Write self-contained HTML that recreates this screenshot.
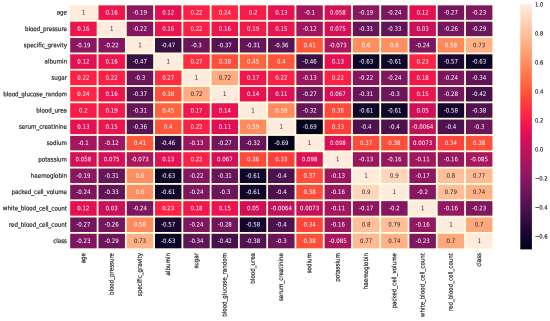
<!DOCTYPE html>
<html><head><meta charset="utf-8"><title>Correlation heatmap</title>
<style>html,body{margin:0;padding:0;background:#fff}body{width:550px;height:321px;overflow:hidden}svg{display:block}text{font-family:"DejaVu Sans Condensed","DejaVu Sans","Liberation Sans",sans-serif;font-size:6.1px;font-stretch:condensed;text-rendering:geometricPrecision;stroke-linejoin:round}.a text{stroke-width:0px}.l text{stroke-width:0.2px;font-size:6.18px}.c text{stroke-width:0.15px;font-size:5.85px}</style></head><body>
<svg width="550" height="321" viewBox="0 0 550 321">
<rect x="0" y="0" width="550" height="321" fill="#ffffff"/>
<defs><filter id="soft" x="-5%" y="-5%" width="110%" height="110%"><feGaussianBlur stdDeviation="0.3"/></filter><filter id="softa" x="-2%" y="-2%" width="104%" height="104%"><feGaussianBlur stdDeviation="0.42"/></filter></defs>
<rect x="69.30" y="4.45" width="424.00" height="244.75" fill="#ffffdf"/>
<g>
<rect x="70.20" y="5.35" width="26.47" height="14.52" fill="#ffebdd"/>
<rect x="98.47" y="5.35" width="26.47" height="14.52" fill="#ed1450"/>
<rect x="126.73" y="5.35" width="26.47" height="14.52" fill="#891761"/>
<rect x="155.00" y="5.35" width="26.47" height="14.52" fill="#e31054"/>
<rect x="183.27" y="5.35" width="26.47" height="14.52" fill="#fa2048"/>
<rect x="211.53" y="5.35" width="26.47" height="14.52" fill="#fe2546"/>
<rect x="239.80" y="5.35" width="26.47" height="14.52" fill="#f61b4b"/>
<rect x="268.07" y="5.35" width="26.47" height="14.52" fill="#e61153"/>
<rect x="296.33" y="5.35" width="26.47" height="14.52" fill="#a3165f"/>
<rect x="324.60" y="5.35" width="26.47" height="14.52" fill="#d20f59"/>
<rect x="352.87" y="5.35" width="26.47" height="14.52" fill="#891761"/>
<rect x="381.13" y="5.35" width="26.47" height="14.52" fill="#7c165f"/>
<rect x="409.40" y="5.35" width="26.47" height="14.52" fill="#e31054"/>
<rect x="437.67" y="5.35" width="26.47" height="14.52" fill="#73165d"/>
<rect x="465.93" y="5.35" width="26.47" height="14.52" fill="#7e1660"/>
<rect x="70.20" y="21.67" width="26.47" height="14.52" fill="#ed1450"/>
<rect x="98.47" y="21.67" width="26.47" height="14.52" fill="#ffebdd"/>
<rect x="126.73" y="21.67" width="26.47" height="14.52" fill="#821660"/>
<rect x="155.00" y="21.67" width="26.47" height="14.52" fill="#ed1450"/>
<rect x="183.27" y="21.67" width="26.47" height="14.52" fill="#fa2048"/>
<rect x="211.53" y="21.67" width="26.47" height="14.52" fill="#ed1450"/>
<rect x="239.80" y="21.67" width="26.47" height="14.52" fill="#f41a4c"/>
<rect x="268.07" y="21.67" width="26.47" height="14.52" fill="#eb1350"/>
<rect x="296.33" y="21.67" width="26.47" height="14.52" fill="#9e1760"/>
<rect x="324.60" y="21.67" width="26.47" height="14.52" fill="#d60f58"/>
<rect x="352.87" y="21.67" width="26.47" height="14.52" fill="#671559"/>
<rect x="381.13" y="21.67" width="26.47" height="14.52" fill="#611457"/>
<rect x="409.40" y="21.67" width="26.47" height="14.52" fill="#ca105b"/>
<rect x="437.67" y="21.67" width="26.47" height="14.52" fill="#76165e"/>
<rect x="465.93" y="21.67" width="26.47" height="14.52" fill="#6d155b"/>
<rect x="70.20" y="37.98" width="26.47" height="14.52" fill="#891761"/>
<rect x="98.47" y="37.98" width="26.47" height="14.52" fill="#821660"/>
<rect x="126.73" y="37.98" width="26.47" height="14.52" fill="#ffebdd"/>
<rect x="155.00" y="37.98" width="26.47" height="14.52" fill="#390e43"/>
<rect x="183.27" y="37.98" width="26.47" height="14.52" fill="#6b155a"/>
<rect x="211.53" y="37.98" width="26.47" height="14.52" fill="#551352"/>
<rect x="239.80" y="37.98" width="26.47" height="14.52" fill="#671559"/>
<rect x="268.07" y="37.98" width="26.47" height="14.52" fill="#571353"/>
<rect x="296.33" y="37.98" width="26.47" height="14.52" fill="#ff573d"/>
<rect x="324.60" y="37.98" width="26.47" height="14.52" fill="#ab165e"/>
<rect x="352.87" y="37.98" width="26.47" height="14.52" fill="#ff8e62"/>
<rect x="381.13" y="37.98" width="26.47" height="14.52" fill="#ff8e62"/>
<rect x="409.40" y="37.98" width="26.47" height="14.52" fill="#7c165f"/>
<rect x="437.67" y="37.98" width="26.47" height="14.52" fill="#ff895d"/>
<rect x="465.93" y="37.98" width="26.47" height="14.52" fill="#ffb086"/>
<rect x="70.20" y="54.30" width="26.47" height="14.52" fill="#e31054"/>
<rect x="98.47" y="54.30" width="26.47" height="14.52" fill="#ed1450"/>
<rect x="126.73" y="54.30" width="26.47" height="14.52" fill="#390e43"/>
<rect x="155.00" y="54.30" width="26.47" height="14.52" fill="#ffebdd"/>
<rect x="183.27" y="54.30" width="26.47" height="14.52" fill="#ff2d42"/>
<rect x="211.53" y="54.30" width="26.47" height="14.52" fill="#ff4f3b"/>
<rect x="239.80" y="54.30" width="26.47" height="14.52" fill="#ff6441"/>
<rect x="268.07" y="54.30" width="26.47" height="14.52" fill="#ff553c"/>
<rect x="296.33" y="54.30" width="26.47" height="14.52" fill="#3a0e44"/>
<rect x="324.60" y="54.30" width="26.47" height="14.52" fill="#e61153"/>
<rect x="352.87" y="54.30" width="26.47" height="14.52" fill="#0b0527"/>
<rect x="381.13" y="54.30" width="26.47" height="14.52" fill="#11072b"/>
<rect x="409.40" y="54.30" width="26.47" height="14.52" fill="#fd2347"/>
<rect x="437.67" y="54.30" width="26.47" height="14.52" fill="#1c0532"/>
<rect x="465.93" y="54.30" width="26.47" height="14.52" fill="#0b0527"/>
<rect x="70.20" y="70.62" width="26.47" height="14.52" fill="#fa2048"/>
<rect x="98.47" y="70.62" width="26.47" height="14.52" fill="#fa2048"/>
<rect x="126.73" y="70.62" width="26.47" height="14.52" fill="#6b155a"/>
<rect x="155.00" y="70.62" width="26.47" height="14.52" fill="#ff2d42"/>
<rect x="183.27" y="70.62" width="26.47" height="14.52" fill="#ffebdd"/>
<rect x="211.53" y="70.62" width="26.47" height="14.52" fill="#ffac82"/>
<rect x="239.80" y="70.62" width="26.47" height="14.52" fill="#f0164e"/>
<rect x="268.07" y="70.62" width="26.47" height="14.52" fill="#fa2048"/>
<rect x="296.33" y="70.62" width="26.47" height="14.52" fill="#9a1760"/>
<rect x="324.60" y="70.62" width="26.47" height="14.52" fill="#fa2048"/>
<rect x="352.87" y="70.62" width="26.47" height="14.52" fill="#821660"/>
<rect x="381.13" y="70.62" width="26.47" height="14.52" fill="#7c165f"/>
<rect x="409.40" y="70.62" width="26.47" height="14.52" fill="#f1174d"/>
<rect x="437.67" y="70.62" width="26.47" height="14.52" fill="#7c165f"/>
<rect x="465.93" y="70.62" width="26.47" height="14.52" fill="#5f1456"/>
<rect x="70.20" y="86.93" width="26.47" height="14.52" fill="#fe2546"/>
<rect x="98.47" y="86.93" width="26.47" height="14.52" fill="#ed1450"/>
<rect x="126.73" y="86.93" width="26.47" height="14.52" fill="#551352"/>
<rect x="155.00" y="86.93" width="26.47" height="14.52" fill="#ff4f3b"/>
<rect x="183.27" y="86.93" width="26.47" height="14.52" fill="#ffac82"/>
<rect x="211.53" y="86.93" width="26.47" height="14.52" fill="#ffebdd"/>
<rect x="239.80" y="86.93" width="26.47" height="14.52" fill="#e81152"/>
<rect x="268.07" y="86.93" width="26.47" height="14.52" fill="#e10f55"/>
<rect x="296.33" y="86.93" width="26.47" height="14.52" fill="#73165d"/>
<rect x="324.60" y="86.93" width="26.47" height="14.52" fill="#d40f59"/>
<rect x="352.87" y="86.93" width="26.47" height="14.52" fill="#671559"/>
<rect x="381.13" y="86.93" width="26.47" height="14.52" fill="#6b155a"/>
<rect x="409.40" y="86.93" width="26.47" height="14.52" fill="#eb1350"/>
<rect x="437.67" y="86.93" width="26.47" height="14.52" fill="#71165c"/>
<rect x="465.93" y="86.93" width="26.47" height="14.52" fill="#46104b"/>
<rect x="70.20" y="103.25" width="26.47" height="14.52" fill="#f61b4b"/>
<rect x="98.47" y="103.25" width="26.47" height="14.52" fill="#f41a4c"/>
<rect x="126.73" y="103.25" width="26.47" height="14.52" fill="#671559"/>
<rect x="155.00" y="103.25" width="26.47" height="14.52" fill="#ff6441"/>
<rect x="183.27" y="103.25" width="26.47" height="14.52" fill="#f0164e"/>
<rect x="211.53" y="103.25" width="26.47" height="14.52" fill="#e81152"/>
<rect x="239.80" y="103.25" width="26.47" height="14.52" fill="#ffebdd"/>
<rect x="268.07" y="103.25" width="26.47" height="14.52" fill="#ff8b5f"/>
<rect x="296.33" y="103.25" width="26.47" height="14.52" fill="#651558"/>
<rect x="324.60" y="103.25" width="26.47" height="14.52" fill="#ff493b"/>
<rect x="352.87" y="103.25" width="26.47" height="14.52" fill="#11072b"/>
<rect x="381.13" y="103.25" width="26.47" height="14.52" fill="#11072b"/>
<rect x="409.40" y="103.25" width="26.47" height="14.52" fill="#d00f59"/>
<rect x="437.67" y="103.25" width="26.47" height="14.52" fill="#180430"/>
<rect x="465.93" y="103.25" width="26.47" height="14.52" fill="#511250"/>
<rect x="70.20" y="119.57" width="26.47" height="14.52" fill="#e61153"/>
<rect x="98.47" y="119.57" width="26.47" height="14.52" fill="#eb1350"/>
<rect x="126.73" y="119.57" width="26.47" height="14.52" fill="#571353"/>
<rect x="155.00" y="119.57" width="26.47" height="14.52" fill="#ff553c"/>
<rect x="183.27" y="119.57" width="26.47" height="14.52" fill="#fa2048"/>
<rect x="211.53" y="119.57" width="26.47" height="14.52" fill="#e10f55"/>
<rect x="239.80" y="119.57" width="26.47" height="14.52" fill="#ff8b5f"/>
<rect x="268.07" y="119.57" width="26.47" height="14.52" fill="#ffebdd"/>
<rect x="296.33" y="119.57" width="26.47" height="14.52" fill="#04021d"/>
<rect x="324.60" y="119.57" width="26.47" height="14.52" fill="#ff3e3c"/>
<rect x="352.87" y="119.57" width="26.47" height="14.52" fill="#4c114e"/>
<rect x="381.13" y="119.57" width="26.47" height="14.52" fill="#4c114e"/>
<rect x="409.40" y="119.57" width="26.47" height="14.52" fill="#bf125c"/>
<rect x="437.67" y="119.57" width="26.47" height="14.52" fill="#4c114e"/>
<rect x="465.93" y="119.57" width="26.47" height="14.52" fill="#6b155a"/>
<rect x="70.20" y="135.88" width="26.47" height="14.52" fill="#a3165f"/>
<rect x="98.47" y="135.88" width="26.47" height="14.52" fill="#9e1760"/>
<rect x="126.73" y="135.88" width="26.47" height="14.52" fill="#ff573d"/>
<rect x="155.00" y="135.88" width="26.47" height="14.52" fill="#3a0e44"/>
<rect x="183.27" y="135.88" width="26.47" height="14.52" fill="#9a1760"/>
<rect x="211.53" y="135.88" width="26.47" height="14.52" fill="#73165d"/>
<rect x="239.80" y="135.88" width="26.47" height="14.52" fill="#651558"/>
<rect x="268.07" y="135.88" width="26.47" height="14.52" fill="#04021d"/>
<rect x="296.33" y="135.88" width="26.47" height="14.52" fill="#ffebdd"/>
<rect x="324.60" y="135.88" width="26.47" height="14.52" fill="#dd0f56"/>
<rect x="352.87" y="135.88" width="26.47" height="14.52" fill="#ff4b3b"/>
<rect x="381.13" y="135.88" width="26.47" height="14.52" fill="#ff4f3b"/>
<rect x="409.40" y="135.88" width="26.47" height="14.52" fill="#c3125c"/>
<rect x="437.67" y="135.88" width="26.47" height="14.52" fill="#ff423b"/>
<rect x="465.93" y="135.88" width="26.47" height="14.52" fill="#ff4f3b"/>
<rect x="70.20" y="152.20" width="26.47" height="14.52" fill="#d20f59"/>
<rect x="98.47" y="152.20" width="26.47" height="14.52" fill="#d60f58"/>
<rect x="126.73" y="152.20" width="26.47" height="14.52" fill="#ab165e"/>
<rect x="155.00" y="152.20" width="26.47" height="14.52" fill="#e61153"/>
<rect x="183.27" y="152.20" width="26.47" height="14.52" fill="#fa2048"/>
<rect x="211.53" y="152.20" width="26.47" height="14.52" fill="#d40f59"/>
<rect x="239.80" y="152.20" width="26.47" height="14.52" fill="#ff493b"/>
<rect x="268.07" y="152.20" width="26.47" height="14.52" fill="#ff3e3c"/>
<rect x="296.33" y="152.20" width="26.47" height="14.52" fill="#dd0f56"/>
<rect x="324.60" y="152.20" width="26.47" height="14.52" fill="#ffebdd"/>
<rect x="352.87" y="152.20" width="26.47" height="14.52" fill="#9a1760"/>
<rect x="381.13" y="152.20" width="26.47" height="14.52" fill="#931761"/>
<rect x="409.40" y="152.20" width="26.47" height="14.52" fill="#a0175f"/>
<rect x="437.67" y="152.20" width="26.47" height="14.52" fill="#931761"/>
<rect x="465.93" y="152.20" width="26.47" height="14.52" fill="#a7165e"/>
<rect x="70.20" y="168.52" width="26.47" height="14.52" fill="#891761"/>
<rect x="98.47" y="168.52" width="26.47" height="14.52" fill="#671559"/>
<rect x="126.73" y="168.52" width="26.47" height="14.52" fill="#ff8e62"/>
<rect x="155.00" y="168.52" width="26.47" height="14.52" fill="#0b0527"/>
<rect x="183.27" y="168.52" width="26.47" height="14.52" fill="#821660"/>
<rect x="211.53" y="168.52" width="26.47" height="14.52" fill="#671559"/>
<rect x="239.80" y="168.52" width="26.47" height="14.52" fill="#11072b"/>
<rect x="268.07" y="168.52" width="26.47" height="14.52" fill="#4c114e"/>
<rect x="296.33" y="168.52" width="26.47" height="14.52" fill="#ff4b3b"/>
<rect x="324.60" y="168.52" width="26.47" height="14.52" fill="#9a1760"/>
<rect x="352.87" y="168.52" width="26.47" height="14.52" fill="#ffebdd"/>
<rect x="381.13" y="168.52" width="26.47" height="14.52" fill="#ffd6bc"/>
<rect x="409.40" y="168.52" width="26.47" height="14.52" fill="#8f1761"/>
<rect x="437.67" y="168.52" width="26.47" height="14.52" fill="#ffbf9b"/>
<rect x="465.93" y="168.52" width="26.47" height="14.52" fill="#ffb993"/>
<rect x="70.20" y="184.83" width="26.47" height="14.52" fill="#7c165f"/>
<rect x="98.47" y="184.83" width="26.47" height="14.52" fill="#611457"/>
<rect x="126.73" y="184.83" width="26.47" height="14.52" fill="#ff8e62"/>
<rect x="155.00" y="184.83" width="26.47" height="14.52" fill="#11072b"/>
<rect x="183.27" y="184.83" width="26.47" height="14.52" fill="#7c165f"/>
<rect x="211.53" y="184.83" width="26.47" height="14.52" fill="#6b155a"/>
<rect x="239.80" y="184.83" width="26.47" height="14.52" fill="#11072b"/>
<rect x="268.07" y="184.83" width="26.47" height="14.52" fill="#4c114e"/>
<rect x="296.33" y="184.83" width="26.47" height="14.52" fill="#ff4f3b"/>
<rect x="324.60" y="184.83" width="26.47" height="14.52" fill="#931761"/>
<rect x="352.87" y="184.83" width="26.47" height="14.52" fill="#ffd6bc"/>
<rect x="381.13" y="184.83" width="26.47" height="14.52" fill="#ffebdd"/>
<rect x="409.40" y="184.83" width="26.47" height="14.52" fill="#881761"/>
<rect x="437.67" y="184.83" width="26.47" height="14.52" fill="#ffbe99"/>
<rect x="465.93" y="184.83" width="26.47" height="14.52" fill="#ffb188"/>
<rect x="70.20" y="201.15" width="26.47" height="14.52" fill="#e31054"/>
<rect x="98.47" y="201.15" width="26.47" height="14.52" fill="#ca105b"/>
<rect x="126.73" y="201.15" width="26.47" height="14.52" fill="#7c165f"/>
<rect x="155.00" y="201.15" width="26.47" height="14.52" fill="#fd2347"/>
<rect x="183.27" y="201.15" width="26.47" height="14.52" fill="#f1174d"/>
<rect x="211.53" y="201.15" width="26.47" height="14.52" fill="#eb1350"/>
<rect x="239.80" y="201.15" width="26.47" height="14.52" fill="#d00f59"/>
<rect x="268.07" y="201.15" width="26.47" height="14.52" fill="#bf125c"/>
<rect x="296.33" y="201.15" width="26.47" height="14.52" fill="#c3125c"/>
<rect x="324.60" y="201.15" width="26.47" height="14.52" fill="#a0175f"/>
<rect x="352.87" y="201.15" width="26.47" height="14.52" fill="#8f1761"/>
<rect x="381.13" y="201.15" width="26.47" height="14.52" fill="#881761"/>
<rect x="409.40" y="201.15" width="26.47" height="14.52" fill="#ffebdd"/>
<rect x="437.67" y="201.15" width="26.47" height="14.52" fill="#931761"/>
<rect x="465.93" y="201.15" width="26.47" height="14.52" fill="#7e1660"/>
<rect x="70.20" y="217.47" width="26.47" height="14.52" fill="#73165d"/>
<rect x="98.47" y="217.47" width="26.47" height="14.52" fill="#76165e"/>
<rect x="126.73" y="217.47" width="26.47" height="14.52" fill="#ff895d"/>
<rect x="155.00" y="217.47" width="26.47" height="14.52" fill="#1c0532"/>
<rect x="183.27" y="217.47" width="26.47" height="14.52" fill="#7c165f"/>
<rect x="211.53" y="217.47" width="26.47" height="14.52" fill="#71165c"/>
<rect x="239.80" y="217.47" width="26.47" height="14.52" fill="#180430"/>
<rect x="268.07" y="217.47" width="26.47" height="14.52" fill="#4c114e"/>
<rect x="296.33" y="217.47" width="26.47" height="14.52" fill="#ff423b"/>
<rect x="324.60" y="217.47" width="26.47" height="14.52" fill="#931761"/>
<rect x="352.87" y="217.47" width="26.47" height="14.52" fill="#ffbf9b"/>
<rect x="381.13" y="217.47" width="26.47" height="14.52" fill="#ffbe99"/>
<rect x="409.40" y="217.47" width="26.47" height="14.52" fill="#931761"/>
<rect x="437.67" y="217.47" width="26.47" height="14.52" fill="#ffebdd"/>
<rect x="465.93" y="217.47" width="26.47" height="14.52" fill="#ffa87d"/>
<rect x="70.20" y="233.78" width="26.47" height="14.52" fill="#7e1660"/>
<rect x="98.47" y="233.78" width="26.47" height="14.52" fill="#6d155b"/>
<rect x="126.73" y="233.78" width="26.47" height="14.52" fill="#ffb086"/>
<rect x="155.00" y="233.78" width="26.47" height="14.52" fill="#0b0527"/>
<rect x="183.27" y="233.78" width="26.47" height="14.52" fill="#5f1456"/>
<rect x="211.53" y="233.78" width="26.47" height="14.52" fill="#46104b"/>
<rect x="239.80" y="233.78" width="26.47" height="14.52" fill="#511250"/>
<rect x="268.07" y="233.78" width="26.47" height="14.52" fill="#6b155a"/>
<rect x="296.33" y="233.78" width="26.47" height="14.52" fill="#ff4f3b"/>
<rect x="324.60" y="233.78" width="26.47" height="14.52" fill="#a7165e"/>
<rect x="352.87" y="233.78" width="26.47" height="14.52" fill="#ffb993"/>
<rect x="381.13" y="233.78" width="26.47" height="14.52" fill="#ffb188"/>
<rect x="409.40" y="233.78" width="26.47" height="14.52" fill="#7e1660"/>
<rect x="437.67" y="233.78" width="26.47" height="14.52" fill="#ffa87d"/>
<rect x="465.93" y="233.78" width="26.47" height="14.52" fill="#ffebdd"/>
</g>
<g class="a" text-anchor="middle" filter="url(#softa)">
<text transform="translate(83.43 14.50) rotate(.03)" fill="#262626" stroke="#262626">1</text>
<text transform="translate(111.70 14.50) rotate(.03)" fill="#ffffff" stroke="#ffffff">0.16</text>
<text transform="translate(139.97 14.50) rotate(.03)" fill="#ffffff" stroke="#ffffff">-0.19</text>
<text transform="translate(168.23 14.50) rotate(.03)" fill="#ffffff" stroke="#ffffff">0.12</text>
<text transform="translate(196.50 14.50) rotate(.03)" fill="#ffffff" stroke="#ffffff">0.22</text>
<text transform="translate(224.77 14.50) rotate(.03)" fill="#ffffff" stroke="#ffffff">0.24</text>
<text transform="translate(253.03 14.50) rotate(.03)" fill="#ffffff" stroke="#ffffff">0.2</text>
<text transform="translate(281.30 14.50) rotate(.03)" fill="#ffffff" stroke="#ffffff">0.13</text>
<text transform="translate(309.57 14.50) rotate(.03)" fill="#ffffff" stroke="#ffffff">-0.1</text>
<text transform="translate(337.83 14.50) rotate(.03)" fill="#ffffff" stroke="#ffffff">0.058</text>
<text transform="translate(366.10 14.50) rotate(.03)" fill="#ffffff" stroke="#ffffff">-0.19</text>
<text transform="translate(394.37 14.50) rotate(.03)" fill="#ffffff" stroke="#ffffff">-0.24</text>
<text transform="translate(422.63 14.50) rotate(.03)" fill="#ffffff" stroke="#ffffff">0.12</text>
<text transform="translate(450.90 14.50) rotate(.03)" fill="#ffffff" stroke="#ffffff">-0.27</text>
<text transform="translate(479.17 14.50) rotate(.03)" fill="#ffffff" stroke="#ffffff">-0.23</text>
<text transform="translate(83.43 30.82) rotate(.03)" fill="#ffffff" stroke="#ffffff">0.16</text>
<text transform="translate(111.70 30.82) rotate(.03)" fill="#262626" stroke="#262626">1</text>
<text transform="translate(139.97 30.82) rotate(.03)" fill="#ffffff" stroke="#ffffff">-0.22</text>
<text transform="translate(168.23 30.82) rotate(.03)" fill="#ffffff" stroke="#ffffff">0.16</text>
<text transform="translate(196.50 30.82) rotate(.03)" fill="#ffffff" stroke="#ffffff">0.22</text>
<text transform="translate(224.77 30.82) rotate(.03)" fill="#ffffff" stroke="#ffffff">0.16</text>
<text transform="translate(253.03 30.82) rotate(.03)" fill="#ffffff" stroke="#ffffff">0.19</text>
<text transform="translate(281.30 30.82) rotate(.03)" fill="#ffffff" stroke="#ffffff">0.15</text>
<text transform="translate(309.57 30.82) rotate(.03)" fill="#ffffff" stroke="#ffffff">-0.12</text>
<text transform="translate(337.83 30.82) rotate(.03)" fill="#ffffff" stroke="#ffffff">0.075</text>
<text transform="translate(366.10 30.82) rotate(.03)" fill="#ffffff" stroke="#ffffff">-0.31</text>
<text transform="translate(394.37 30.82) rotate(.03)" fill="#ffffff" stroke="#ffffff">-0.33</text>
<text transform="translate(422.63 30.82) rotate(.03)" fill="#ffffff" stroke="#ffffff">0.03</text>
<text transform="translate(450.90 30.82) rotate(.03)" fill="#ffffff" stroke="#ffffff">-0.26</text>
<text transform="translate(479.17 30.82) rotate(.03)" fill="#ffffff" stroke="#ffffff">-0.29</text>
<text transform="translate(83.43 47.13) rotate(.03)" fill="#ffffff" stroke="#ffffff">-0.19</text>
<text transform="translate(111.70 47.13) rotate(.03)" fill="#ffffff" stroke="#ffffff">-0.22</text>
<text transform="translate(139.97 47.13) rotate(.03)" fill="#262626" stroke="#262626">1</text>
<text transform="translate(168.23 47.13) rotate(.03)" fill="#ffffff" stroke="#ffffff">-0.47</text>
<text transform="translate(196.50 47.13) rotate(.03)" fill="#ffffff" stroke="#ffffff">-0.3</text>
<text transform="translate(224.77 47.13) rotate(.03)" fill="#ffffff" stroke="#ffffff">-0.37</text>
<text transform="translate(253.03 47.13) rotate(.03)" fill="#ffffff" stroke="#ffffff">-0.31</text>
<text transform="translate(281.30 47.13) rotate(.03)" fill="#ffffff" stroke="#ffffff">-0.36</text>
<text transform="translate(309.57 47.13) rotate(.03)" fill="#ffffff" stroke="#ffffff">0.41</text>
<text transform="translate(337.83 47.13) rotate(.03)" fill="#ffffff" stroke="#ffffff">-0.073</text>
<text transform="translate(366.10 47.13) rotate(.03)" fill="#ffffff" stroke="#ffffff">0.6</text>
<text transform="translate(394.37 47.13) rotate(.03)" fill="#ffffff" stroke="#ffffff">0.6</text>
<text transform="translate(422.63 47.13) rotate(.03)" fill="#ffffff" stroke="#ffffff">-0.24</text>
<text transform="translate(450.90 47.13) rotate(.03)" fill="#ffffff" stroke="#ffffff">0.58</text>
<text transform="translate(479.17 47.13) rotate(.03)" fill="#262626" stroke="#262626">0.73</text>
<text transform="translate(83.43 63.45) rotate(.03)" fill="#ffffff" stroke="#ffffff">0.12</text>
<text transform="translate(111.70 63.45) rotate(.03)" fill="#ffffff" stroke="#ffffff">0.16</text>
<text transform="translate(139.97 63.45) rotate(.03)" fill="#ffffff" stroke="#ffffff">-0.47</text>
<text transform="translate(168.23 63.45) rotate(.03)" fill="#262626" stroke="#262626">1</text>
<text transform="translate(196.50 63.45) rotate(.03)" fill="#ffffff" stroke="#ffffff">0.27</text>
<text transform="translate(224.77 63.45) rotate(.03)" fill="#ffffff" stroke="#ffffff">0.38</text>
<text transform="translate(253.03 63.45) rotate(.03)" fill="#ffffff" stroke="#ffffff">0.45</text>
<text transform="translate(281.30 63.45) rotate(.03)" fill="#ffffff" stroke="#ffffff">0.4</text>
<text transform="translate(309.57 63.45) rotate(.03)" fill="#ffffff" stroke="#ffffff">-0.46</text>
<text transform="translate(337.83 63.45) rotate(.03)" fill="#ffffff" stroke="#ffffff">0.13</text>
<text transform="translate(366.10 63.45) rotate(.03)" fill="#ffffff" stroke="#ffffff">-0.63</text>
<text transform="translate(394.37 63.45) rotate(.03)" fill="#ffffff" stroke="#ffffff">-0.61</text>
<text transform="translate(422.63 63.45) rotate(.03)" fill="#ffffff" stroke="#ffffff">0.23</text>
<text transform="translate(450.90 63.45) rotate(.03)" fill="#ffffff" stroke="#ffffff">-0.57</text>
<text transform="translate(479.17 63.45) rotate(.03)" fill="#ffffff" stroke="#ffffff">-0.63</text>
<text transform="translate(83.43 79.77) rotate(.03)" fill="#ffffff" stroke="#ffffff">0.22</text>
<text transform="translate(111.70 79.77) rotate(.03)" fill="#ffffff" stroke="#ffffff">0.22</text>
<text transform="translate(139.97 79.77) rotate(.03)" fill="#ffffff" stroke="#ffffff">-0.3</text>
<text transform="translate(168.23 79.77) rotate(.03)" fill="#ffffff" stroke="#ffffff">0.27</text>
<text transform="translate(196.50 79.77) rotate(.03)" fill="#262626" stroke="#262626">1</text>
<text transform="translate(224.77 79.77) rotate(.03)" fill="#262626" stroke="#262626">0.72</text>
<text transform="translate(253.03 79.77) rotate(.03)" fill="#ffffff" stroke="#ffffff">0.17</text>
<text transform="translate(281.30 79.77) rotate(.03)" fill="#ffffff" stroke="#ffffff">0.22</text>
<text transform="translate(309.57 79.77) rotate(.03)" fill="#ffffff" stroke="#ffffff">-0.13</text>
<text transform="translate(337.83 79.77) rotate(.03)" fill="#ffffff" stroke="#ffffff">0.22</text>
<text transform="translate(366.10 79.77) rotate(.03)" fill="#ffffff" stroke="#ffffff">-0.22</text>
<text transform="translate(394.37 79.77) rotate(.03)" fill="#ffffff" stroke="#ffffff">-0.24</text>
<text transform="translate(422.63 79.77) rotate(.03)" fill="#ffffff" stroke="#ffffff">0.18</text>
<text transform="translate(450.90 79.77) rotate(.03)" fill="#ffffff" stroke="#ffffff">-0.24</text>
<text transform="translate(479.17 79.77) rotate(.03)" fill="#ffffff" stroke="#ffffff">-0.34</text>
<text transform="translate(83.43 96.08) rotate(.03)" fill="#ffffff" stroke="#ffffff">0.24</text>
<text transform="translate(111.70 96.08) rotate(.03)" fill="#ffffff" stroke="#ffffff">0.16</text>
<text transform="translate(139.97 96.08) rotate(.03)" fill="#ffffff" stroke="#ffffff">-0.37</text>
<text transform="translate(168.23 96.08) rotate(.03)" fill="#ffffff" stroke="#ffffff">0.38</text>
<text transform="translate(196.50 96.08) rotate(.03)" fill="#262626" stroke="#262626">0.72</text>
<text transform="translate(224.77 96.08) rotate(.03)" fill="#262626" stroke="#262626">1</text>
<text transform="translate(253.03 96.08) rotate(.03)" fill="#ffffff" stroke="#ffffff">0.14</text>
<text transform="translate(281.30 96.08) rotate(.03)" fill="#ffffff" stroke="#ffffff">0.11</text>
<text transform="translate(309.57 96.08) rotate(.03)" fill="#ffffff" stroke="#ffffff">-0.27</text>
<text transform="translate(337.83 96.08) rotate(.03)" fill="#ffffff" stroke="#ffffff">0.067</text>
<text transform="translate(366.10 96.08) rotate(.03)" fill="#ffffff" stroke="#ffffff">-0.31</text>
<text transform="translate(394.37 96.08) rotate(.03)" fill="#ffffff" stroke="#ffffff">-0.3</text>
<text transform="translate(422.63 96.08) rotate(.03)" fill="#ffffff" stroke="#ffffff">0.15</text>
<text transform="translate(450.90 96.08) rotate(.03)" fill="#ffffff" stroke="#ffffff">-0.28</text>
<text transform="translate(479.17 96.08) rotate(.03)" fill="#ffffff" stroke="#ffffff">-0.42</text>
<text transform="translate(83.43 112.40) rotate(.03)" fill="#ffffff" stroke="#ffffff">0.2</text>
<text transform="translate(111.70 112.40) rotate(.03)" fill="#ffffff" stroke="#ffffff">0.19</text>
<text transform="translate(139.97 112.40) rotate(.03)" fill="#ffffff" stroke="#ffffff">-0.31</text>
<text transform="translate(168.23 112.40) rotate(.03)" fill="#ffffff" stroke="#ffffff">0.45</text>
<text transform="translate(196.50 112.40) rotate(.03)" fill="#ffffff" stroke="#ffffff">0.17</text>
<text transform="translate(224.77 112.40) rotate(.03)" fill="#ffffff" stroke="#ffffff">0.14</text>
<text transform="translate(253.03 112.40) rotate(.03)" fill="#262626" stroke="#262626">1</text>
<text transform="translate(281.30 112.40) rotate(.03)" fill="#ffffff" stroke="#ffffff">0.59</text>
<text transform="translate(309.57 112.40) rotate(.03)" fill="#ffffff" stroke="#ffffff">-0.32</text>
<text transform="translate(337.83 112.40) rotate(.03)" fill="#ffffff" stroke="#ffffff">0.36</text>
<text transform="translate(366.10 112.40) rotate(.03)" fill="#ffffff" stroke="#ffffff">-0.61</text>
<text transform="translate(394.37 112.40) rotate(.03)" fill="#ffffff" stroke="#ffffff">-0.61</text>
<text transform="translate(422.63 112.40) rotate(.03)" fill="#ffffff" stroke="#ffffff">0.05</text>
<text transform="translate(450.90 112.40) rotate(.03)" fill="#ffffff" stroke="#ffffff">-0.58</text>
<text transform="translate(479.17 112.40) rotate(.03)" fill="#ffffff" stroke="#ffffff">-0.38</text>
<text transform="translate(83.43 128.72) rotate(.03)" fill="#ffffff" stroke="#ffffff">0.13</text>
<text transform="translate(111.70 128.72) rotate(.03)" fill="#ffffff" stroke="#ffffff">0.15</text>
<text transform="translate(139.97 128.72) rotate(.03)" fill="#ffffff" stroke="#ffffff">-0.36</text>
<text transform="translate(168.23 128.72) rotate(.03)" fill="#ffffff" stroke="#ffffff">0.4</text>
<text transform="translate(196.50 128.72) rotate(.03)" fill="#ffffff" stroke="#ffffff">0.22</text>
<text transform="translate(224.77 128.72) rotate(.03)" fill="#ffffff" stroke="#ffffff">0.11</text>
<text transform="translate(253.03 128.72) rotate(.03)" fill="#ffffff" stroke="#ffffff">0.59</text>
<text transform="translate(281.30 128.72) rotate(.03)" fill="#262626" stroke="#262626">1</text>
<text transform="translate(309.57 128.72) rotate(.03)" fill="#ffffff" stroke="#ffffff">-0.69</text>
<text transform="translate(337.83 128.72) rotate(.03)" fill="#ffffff" stroke="#ffffff">0.33</text>
<text transform="translate(366.10 128.72) rotate(.03)" fill="#ffffff" stroke="#ffffff">-0.4</text>
<text transform="translate(394.37 128.72) rotate(.03)" fill="#ffffff" stroke="#ffffff">-0.4</text>
<text transform="translate(422.63 128.72) rotate(.03)" fill="#ffffff" stroke="#ffffff">-0.0064</text>
<text transform="translate(450.90 128.72) rotate(.03)" fill="#ffffff" stroke="#ffffff">-0.4</text>
<text transform="translate(479.17 128.72) rotate(.03)" fill="#ffffff" stroke="#ffffff">-0.3</text>
<text transform="translate(83.43 145.03) rotate(.03)" fill="#ffffff" stroke="#ffffff">-0.1</text>
<text transform="translate(111.70 145.03) rotate(.03)" fill="#ffffff" stroke="#ffffff">-0.12</text>
<text transform="translate(139.97 145.03) rotate(.03)" fill="#ffffff" stroke="#ffffff">0.41</text>
<text transform="translate(168.23 145.03) rotate(.03)" fill="#ffffff" stroke="#ffffff">-0.46</text>
<text transform="translate(196.50 145.03) rotate(.03)" fill="#ffffff" stroke="#ffffff">-0.13</text>
<text transform="translate(224.77 145.03) rotate(.03)" fill="#ffffff" stroke="#ffffff">-0.27</text>
<text transform="translate(253.03 145.03) rotate(.03)" fill="#ffffff" stroke="#ffffff">-0.32</text>
<text transform="translate(281.30 145.03) rotate(.03)" fill="#ffffff" stroke="#ffffff">-0.69</text>
<text transform="translate(309.57 145.03) rotate(.03)" fill="#262626" stroke="#262626">1</text>
<text transform="translate(337.83 145.03) rotate(.03)" fill="#ffffff" stroke="#ffffff">0.098</text>
<text transform="translate(366.10 145.03) rotate(.03)" fill="#ffffff" stroke="#ffffff">0.37</text>
<text transform="translate(394.37 145.03) rotate(.03)" fill="#ffffff" stroke="#ffffff">0.38</text>
<text transform="translate(422.63 145.03) rotate(.03)" fill="#ffffff" stroke="#ffffff">0.0073</text>
<text transform="translate(450.90 145.03) rotate(.03)" fill="#ffffff" stroke="#ffffff">0.34</text>
<text transform="translate(479.17 145.03) rotate(.03)" fill="#ffffff" stroke="#ffffff">0.38</text>
<text transform="translate(83.43 161.35) rotate(.03)" fill="#ffffff" stroke="#ffffff">0.058</text>
<text transform="translate(111.70 161.35) rotate(.03)" fill="#ffffff" stroke="#ffffff">0.075</text>
<text transform="translate(139.97 161.35) rotate(.03)" fill="#ffffff" stroke="#ffffff">-0.073</text>
<text transform="translate(168.23 161.35) rotate(.03)" fill="#ffffff" stroke="#ffffff">0.13</text>
<text transform="translate(196.50 161.35) rotate(.03)" fill="#ffffff" stroke="#ffffff">0.22</text>
<text transform="translate(224.77 161.35) rotate(.03)" fill="#ffffff" stroke="#ffffff">0.067</text>
<text transform="translate(253.03 161.35) rotate(.03)" fill="#ffffff" stroke="#ffffff">0.36</text>
<text transform="translate(281.30 161.35) rotate(.03)" fill="#ffffff" stroke="#ffffff">0.33</text>
<text transform="translate(309.57 161.35) rotate(.03)" fill="#ffffff" stroke="#ffffff">0.098</text>
<text transform="translate(337.83 161.35) rotate(.03)" fill="#262626" stroke="#262626">1</text>
<text transform="translate(366.10 161.35) rotate(.03)" fill="#ffffff" stroke="#ffffff">-0.13</text>
<text transform="translate(394.37 161.35) rotate(.03)" fill="#ffffff" stroke="#ffffff">-0.16</text>
<text transform="translate(422.63 161.35) rotate(.03)" fill="#ffffff" stroke="#ffffff">-0.11</text>
<text transform="translate(450.90 161.35) rotate(.03)" fill="#ffffff" stroke="#ffffff">-0.16</text>
<text transform="translate(479.17 161.35) rotate(.03)" fill="#ffffff" stroke="#ffffff">-0.085</text>
<text transform="translate(83.43 177.67) rotate(.03)" fill="#ffffff" stroke="#ffffff">-0.19</text>
<text transform="translate(111.70 177.67) rotate(.03)" fill="#ffffff" stroke="#ffffff">-0.31</text>
<text transform="translate(139.97 177.67) rotate(.03)" fill="#ffffff" stroke="#ffffff">0.6</text>
<text transform="translate(168.23 177.67) rotate(.03)" fill="#ffffff" stroke="#ffffff">-0.63</text>
<text transform="translate(196.50 177.67) rotate(.03)" fill="#ffffff" stroke="#ffffff">-0.22</text>
<text transform="translate(224.77 177.67) rotate(.03)" fill="#ffffff" stroke="#ffffff">-0.31</text>
<text transform="translate(253.03 177.67) rotate(.03)" fill="#ffffff" stroke="#ffffff">-0.61</text>
<text transform="translate(281.30 177.67) rotate(.03)" fill="#ffffff" stroke="#ffffff">-0.4</text>
<text transform="translate(309.57 177.67) rotate(.03)" fill="#ffffff" stroke="#ffffff">0.37</text>
<text transform="translate(337.83 177.67) rotate(.03)" fill="#ffffff" stroke="#ffffff">-0.13</text>
<text transform="translate(366.10 177.67) rotate(.03)" fill="#262626" stroke="#262626">1</text>
<text transform="translate(394.37 177.67) rotate(.03)" fill="#262626" stroke="#262626">0.9</text>
<text transform="translate(422.63 177.67) rotate(.03)" fill="#ffffff" stroke="#ffffff">-0.17</text>
<text transform="translate(450.90 177.67) rotate(.03)" fill="#262626" stroke="#262626">0.8</text>
<text transform="translate(479.17 177.67) rotate(.03)" fill="#262626" stroke="#262626">0.77</text>
<text transform="translate(83.43 193.98) rotate(.03)" fill="#ffffff" stroke="#ffffff">-0.24</text>
<text transform="translate(111.70 193.98) rotate(.03)" fill="#ffffff" stroke="#ffffff">-0.33</text>
<text transform="translate(139.97 193.98) rotate(.03)" fill="#ffffff" stroke="#ffffff">0.6</text>
<text transform="translate(168.23 193.98) rotate(.03)" fill="#ffffff" stroke="#ffffff">-0.61</text>
<text transform="translate(196.50 193.98) rotate(.03)" fill="#ffffff" stroke="#ffffff">-0.24</text>
<text transform="translate(224.77 193.98) rotate(.03)" fill="#ffffff" stroke="#ffffff">-0.3</text>
<text transform="translate(253.03 193.98) rotate(.03)" fill="#ffffff" stroke="#ffffff">-0.61</text>
<text transform="translate(281.30 193.98) rotate(.03)" fill="#ffffff" stroke="#ffffff">-0.4</text>
<text transform="translate(309.57 193.98) rotate(.03)" fill="#ffffff" stroke="#ffffff">0.38</text>
<text transform="translate(337.83 193.98) rotate(.03)" fill="#ffffff" stroke="#ffffff">-0.16</text>
<text transform="translate(366.10 193.98) rotate(.03)" fill="#262626" stroke="#262626">0.9</text>
<text transform="translate(394.37 193.98) rotate(.03)" fill="#262626" stroke="#262626">1</text>
<text transform="translate(422.63 193.98) rotate(.03)" fill="#ffffff" stroke="#ffffff">-0.2</text>
<text transform="translate(450.90 193.98) rotate(.03)" fill="#262626" stroke="#262626">0.79</text>
<text transform="translate(479.17 193.98) rotate(.03)" fill="#262626" stroke="#262626">0.74</text>
<text transform="translate(83.43 210.30) rotate(.03)" fill="#ffffff" stroke="#ffffff">0.12</text>
<text transform="translate(111.70 210.30) rotate(.03)" fill="#ffffff" stroke="#ffffff">0.03</text>
<text transform="translate(139.97 210.30) rotate(.03)" fill="#ffffff" stroke="#ffffff">-0.24</text>
<text transform="translate(168.23 210.30) rotate(.03)" fill="#ffffff" stroke="#ffffff">0.23</text>
<text transform="translate(196.50 210.30) rotate(.03)" fill="#ffffff" stroke="#ffffff">0.18</text>
<text transform="translate(224.77 210.30) rotate(.03)" fill="#ffffff" stroke="#ffffff">0.15</text>
<text transform="translate(253.03 210.30) rotate(.03)" fill="#ffffff" stroke="#ffffff">0.05</text>
<text transform="translate(281.30 210.30) rotate(.03)" fill="#ffffff" stroke="#ffffff">-0.0064</text>
<text transform="translate(309.57 210.30) rotate(.03)" fill="#ffffff" stroke="#ffffff">0.0073</text>
<text transform="translate(337.83 210.30) rotate(.03)" fill="#ffffff" stroke="#ffffff">-0.11</text>
<text transform="translate(366.10 210.30) rotate(.03)" fill="#ffffff" stroke="#ffffff">-0.17</text>
<text transform="translate(394.37 210.30) rotate(.03)" fill="#ffffff" stroke="#ffffff">-0.2</text>
<text transform="translate(422.63 210.30) rotate(.03)" fill="#262626" stroke="#262626">1</text>
<text transform="translate(450.90 210.30) rotate(.03)" fill="#ffffff" stroke="#ffffff">-0.16</text>
<text transform="translate(479.17 210.30) rotate(.03)" fill="#ffffff" stroke="#ffffff">-0.23</text>
<text transform="translate(83.43 226.62) rotate(.03)" fill="#ffffff" stroke="#ffffff">-0.27</text>
<text transform="translate(111.70 226.62) rotate(.03)" fill="#ffffff" stroke="#ffffff">-0.26</text>
<text transform="translate(139.97 226.62) rotate(.03)" fill="#ffffff" stroke="#ffffff">0.58</text>
<text transform="translate(168.23 226.62) rotate(.03)" fill="#ffffff" stroke="#ffffff">-0.57</text>
<text transform="translate(196.50 226.62) rotate(.03)" fill="#ffffff" stroke="#ffffff">-0.24</text>
<text transform="translate(224.77 226.62) rotate(.03)" fill="#ffffff" stroke="#ffffff">-0.28</text>
<text transform="translate(253.03 226.62) rotate(.03)" fill="#ffffff" stroke="#ffffff">-0.58</text>
<text transform="translate(281.30 226.62) rotate(.03)" fill="#ffffff" stroke="#ffffff">-0.4</text>
<text transform="translate(309.57 226.62) rotate(.03)" fill="#ffffff" stroke="#ffffff">0.34</text>
<text transform="translate(337.83 226.62) rotate(.03)" fill="#ffffff" stroke="#ffffff">-0.16</text>
<text transform="translate(366.10 226.62) rotate(.03)" fill="#262626" stroke="#262626">0.8</text>
<text transform="translate(394.37 226.62) rotate(.03)" fill="#262626" stroke="#262626">0.79</text>
<text transform="translate(422.63 226.62) rotate(.03)" fill="#ffffff" stroke="#ffffff">-0.16</text>
<text transform="translate(450.90 226.62) rotate(.03)" fill="#262626" stroke="#262626">1</text>
<text transform="translate(479.17 226.62) rotate(.03)" fill="#262626" stroke="#262626">0.7</text>
<text transform="translate(83.43 242.93) rotate(.03)" fill="#ffffff" stroke="#ffffff">-0.23</text>
<text transform="translate(111.70 242.93) rotate(.03)" fill="#ffffff" stroke="#ffffff">-0.29</text>
<text transform="translate(139.97 242.93) rotate(.03)" fill="#262626" stroke="#262626">0.73</text>
<text transform="translate(168.23 242.93) rotate(.03)" fill="#ffffff" stroke="#ffffff">-0.63</text>
<text transform="translate(196.50 242.93) rotate(.03)" fill="#ffffff" stroke="#ffffff">-0.34</text>
<text transform="translate(224.77 242.93) rotate(.03)" fill="#ffffff" stroke="#ffffff">-0.42</text>
<text transform="translate(253.03 242.93) rotate(.03)" fill="#ffffff" stroke="#ffffff">-0.38</text>
<text transform="translate(281.30 242.93) rotate(.03)" fill="#ffffff" stroke="#ffffff">-0.3</text>
<text transform="translate(309.57 242.93) rotate(.03)" fill="#ffffff" stroke="#ffffff">0.38</text>
<text transform="translate(337.83 242.93) rotate(.03)" fill="#ffffff" stroke="#ffffff">-0.085</text>
<text transform="translate(366.10 242.93) rotate(.03)" fill="#262626" stroke="#262626">0.77</text>
<text transform="translate(394.37 242.93) rotate(.03)" fill="#262626" stroke="#262626">0.74</text>
<text transform="translate(422.63 242.93) rotate(.03)" fill="#ffffff" stroke="#ffffff">-0.23</text>
<text transform="translate(450.90 242.93) rotate(.03)" fill="#262626" stroke="#262626">0.7</text>
<text transform="translate(479.17 242.93) rotate(.03)" fill="#262626" stroke="#262626">1</text>
</g>
<g class="l" text-anchor="end" fill="#262626" stroke="#262626" filter="url(#soft)">
<text transform="translate(67.00 14.59) rotate(.03)">age</text>
<text transform="translate(67.00 30.90) rotate(.03)">blood_pressure</text>
<text transform="translate(67.00 47.22) rotate(.03)">specific_gravity</text>
<text transform="translate(67.00 63.54) rotate(.03)">albumin</text>
<text transform="translate(67.00 79.85) rotate(.03)">sugar</text>
<text transform="translate(67.00 96.17) rotate(.03)">blood_glucose_random</text>
<text transform="translate(67.00 112.49) rotate(.03)">blood_urea</text>
<text transform="translate(67.00 128.80) rotate(.03)">serum_creatinine</text>
<text transform="translate(67.00 145.12) rotate(.03)">sodium</text>
<text transform="translate(67.00 161.44) rotate(.03)">potassium</text>
<text transform="translate(67.00 177.75) rotate(.03)">haemoglobin</text>
<text transform="translate(67.00 194.07) rotate(.03)">packed_cell_volume</text>
<text transform="translate(67.00 210.39) rotate(.03)">white_blood_cell_count</text>
<text transform="translate(67.00 226.70) rotate(.03)">red_blood_cell_count</text>
<text transform="translate(67.00 243.02) rotate(.03)">class</text>
</g>
<g class="l" text-anchor="end" fill="#262626" stroke="#262626" filter="url(#soft)">
<text transform="translate(85.23 253.00) rotate(-89.97)">age</text>
<text transform="translate(113.49 253.00) rotate(-89.97)">blood_pressure</text>
<text transform="translate(141.76 253.00) rotate(-89.97)">specific_gravity</text>
<text transform="translate(170.03 253.00) rotate(-89.97)">albumin</text>
<text transform="translate(198.29 253.00) rotate(-89.97)">sugar</text>
<text transform="translate(226.56 253.00) rotate(-89.97)">blood_glucose_random</text>
<text transform="translate(254.83 253.00) rotate(-89.97)">blood_urea</text>
<text transform="translate(283.09 253.00) rotate(-89.97)">serum_creatinine</text>
<text transform="translate(311.36 253.00) rotate(-89.97)">sodium</text>
<text transform="translate(339.63 253.00) rotate(-89.97)">potassium</text>
<text transform="translate(367.89 253.00) rotate(-89.97)">haemoglobin</text>
<text transform="translate(396.16 253.00) rotate(-89.97)">packed_cell_volume</text>
<text transform="translate(424.43 253.00) rotate(-89.97)">white_blood_cell_count</text>
<text transform="translate(452.69 253.00) rotate(-89.97)">red_blood_cell_count</text>
<text transform="translate(480.96 253.00) rotate(-89.97)">class</text>
</g>
<defs><linearGradient id="cb" x1="0" y1="1" x2="0" y2="0">
<stop offset="0.0000" stop-color="#04021d"/>
<stop offset="0.0156" stop-color="#050322"/>
<stop offset="0.0312" stop-color="#090526"/>
<stop offset="0.0469" stop-color="#11072b"/>
<stop offset="0.0625" stop-color="#180430"/>
<stop offset="0.0781" stop-color="#200634"/>
<stop offset="0.0938" stop-color="#280939"/>
<stop offset="0.1094" stop-color="#2f0b3e"/>
<stop offset="0.1250" stop-color="#370d42"/>
<stop offset="0.1406" stop-color="#3e0f47"/>
<stop offset="0.1562" stop-color="#46104b"/>
<stop offset="0.1719" stop-color="#4e124e"/>
<stop offset="0.1875" stop-color="#551352"/>
<stop offset="0.2031" stop-color="#5d1455"/>
<stop offset="0.2188" stop-color="#651558"/>
<stop offset="0.2344" stop-color="#6d155b"/>
<stop offset="0.2500" stop-color="#75165e"/>
<stop offset="0.2656" stop-color="#7c165f"/>
<stop offset="0.2812" stop-color="#841660"/>
<stop offset="0.2969" stop-color="#8b1761"/>
<stop offset="0.3125" stop-color="#931761"/>
<stop offset="0.3281" stop-color="#9a1760"/>
<stop offset="0.3438" stop-color="#a2165f"/>
<stop offset="0.3594" stop-color="#a9165e"/>
<stop offset="0.3750" stop-color="#b1155e"/>
<stop offset="0.3906" stop-color="#b9145d"/>
<stop offset="0.4062" stop-color="#c1125c"/>
<stop offset="0.4219" stop-color="#c8115b"/>
<stop offset="0.4375" stop-color="#d00f59"/>
<stop offset="0.4531" stop-color="#d80f58"/>
<stop offset="0.4688" stop-color="#df0f55"/>
<stop offset="0.4844" stop-color="#e61153"/>
<stop offset="0.5000" stop-color="#ed1450"/>
<stop offset="0.5156" stop-color="#f3194c"/>
<stop offset="0.5312" stop-color="#f91e49"/>
<stop offset="0.5469" stop-color="#fe2546"/>
<stop offset="0.5625" stop-color="#ff2c42"/>
<stop offset="0.5781" stop-color="#ff333f"/>
<stop offset="0.5938" stop-color="#ff3a3d"/>
<stop offset="0.6094" stop-color="#ff423b"/>
<stop offset="0.6250" stop-color="#ff4b3b"/>
<stop offset="0.6406" stop-color="#ff533c"/>
<stop offset="0.6562" stop-color="#ff5c3e"/>
<stop offset="0.6719" stop-color="#ff6441"/>
<stop offset="0.6875" stop-color="#ff6c46"/>
<stop offset="0.7031" stop-color="#ff734b"/>
<stop offset="0.7188" stop-color="#ff7b51"/>
<stop offset="0.7344" stop-color="#ff8257"/>
<stop offset="0.7500" stop-color="#ff895d"/>
<stop offset="0.7656" stop-color="#ff9064"/>
<stop offset="0.7812" stop-color="#ff976a"/>
<stop offset="0.7969" stop-color="#ff9e72"/>
<stop offset="0.8125" stop-color="#ffa479"/>
<stop offset="0.8281" stop-color="#ffab80"/>
<stop offset="0.8438" stop-color="#ffb188"/>
<stop offset="0.8594" stop-color="#ffb890"/>
<stop offset="0.8750" stop-color="#ffbe99"/>
<stop offset="0.8906" stop-color="#ffc4a1"/>
<stop offset="0.9062" stop-color="#ffcaaa"/>
<stop offset="0.9219" stop-color="#ffd0b3"/>
<stop offset="0.9375" stop-color="#ffd6bc"/>
<stop offset="0.9531" stop-color="#ffdbc5"/>
<stop offset="0.9688" stop-color="#ffe1ce"/>
<stop offset="0.9844" stop-color="#ffe7d7"/>
<stop offset="1.0000" stop-color="#ffebdd"/>
</linearGradient></defs>
<rect x="520.30" y="4.20" width="11.60" height="245.20" fill="url(#cb)"/>
<g class="c" fill="#262626" stroke="#262626" filter="url(#soft)">
<text transform="translate(534.90 6.48) rotate(.03)">1.0</text>
<text transform="translate(534.90 35.50) rotate(.03)">0.8</text>
<text transform="translate(534.90 64.52) rotate(.03)">0.6</text>
<text transform="translate(534.90 93.53) rotate(.03)">0.4</text>
<text transform="translate(534.90 122.55) rotate(.03)">0.2</text>
<text transform="translate(534.90 151.57) rotate(.03)">0.0</text>
<text transform="translate(534.90 180.59) rotate(.03)">−0.2</text>
<text transform="translate(534.90 209.61) rotate(.03)">−0.4</text>
<text transform="translate(534.90 238.62) rotate(.03)">−0.6</text>
</g>
</svg></body></html>
